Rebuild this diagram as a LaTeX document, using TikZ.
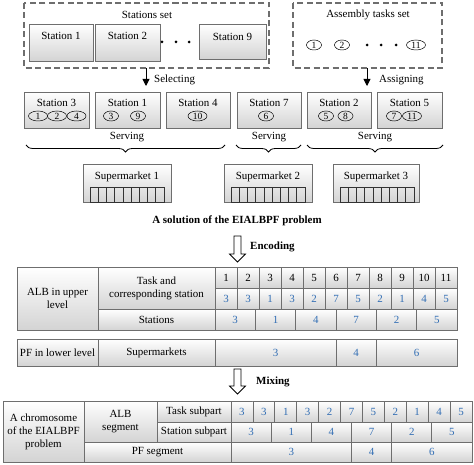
\documentclass[tikz,border=0pt]{standalone}
\usepackage{fontspec}
\setmainfont{Liberation Serif}
\usetikzlibrary{calc,shapes.geometric,decorations.pathreplacing,arrows.meta}
\definecolor{numblue}{RGB}{50,110,180}
\definecolor{edge}{RGB}{110,110,110}
\tikzset{
  boxshade/.style={top color=white,bottom color=black!17},
  boxline/.style={draw=edge,line width=0.8bp},
  dashbox/.style={draw=edge,line width=1.1bp,dash pattern=on 6bp off 3.5bp},
  tsk/.style={ellipse,draw=black,line width=0.5bp,minimum width=15bp,minimum height=10bp,inner sep=0pt,font=\fontsize{9.5}{10}\selectfont},
  wtsk/.style={tsk,minimum width=19bp},
  lbl/.style={inner sep=0pt,font=\fontsize{11}{13}\selectfont},
  blbl/.style={lbl,font=\fontsize{11}{13}\selectfont\bfseries},
  dotn/.style={circle,fill=black,inner sep=0pt,minimum size=3bp},
  brc/.style={decorate,decoration={brace,mirror,amplitude=7bp},line width=0.8bp},
  arr/.style={-{Triangle[length=7bp,width=7bp]},line width=0.9bp},
  hollow/.style={draw=black,line width=0.8bp,fill=white},
}
% cell: name, x1, y1, x2, y2, text
\newcommand\tcell[6]{%
  \shade[boxshade] (#2,#3) rectangle (#4,#5);
  \draw[boxline] (#2,#3) rectangle (#4,#5);
  \node[lbl,align=center] (#1) at ($(#2,#3)!.5!(#4,#5)$) {#6};}
\newcommand\bcell[6]{\tcell{#1}{#2}{#3}{#4}{#5}{\textcolor{numblue}{#6}}}
\newcommand\stbox[5]{% name, x1, y1, x2, y2
  \shade[boxshade] (#2,#3) rectangle (#4,#5);
  \draw[boxline] (#2,#3) rectangle (#4,#5);
  \coordinate (#1) at ($(#2,#3)!.5!(#4,#5)$);}
\begin{document}
\begin{tikzpicture}[x=1bp,y=-1bp]
\useasboundingbox (0,0) rectangle (474,465);
\fill[white] (0,0) rectangle (474,465);

% ---------- top dashed sets ----------
\draw[dashbox] (24,3) rectangle (269,68);
\node[lbl] (sset) at (147,15) {Stations set};
\stbox{s1b}{29}{24}{93}{61}
\node[lbl] (s1) at (61,36) {Station 1};
\stbox{s2b}{95}{24}{160}{61}
\node[lbl] (s2) at (127.5,36) {Station 2};
\stbox{s9b}{199}{24}{266}{59}
\node[lbl] (s9) at (232.5,37) {Station 9};
\node[dotn] (d1) at (162,42) {};
\node[dotn] (d2) at (176,42) {};
\node[dotn] (d3) at (189,42) {};

\draw[dashbox] (293,3) rectangle (442,68);
\node[lbl] (tset) at (368,15) {Assembly tasks set};
\node[tsk] (a1) at (314,45) {1};
\node[tsk] (a2) at (342,45) {2};
\node[dotn] (e1) at (367,45) {};
\node[dotn] (e2) at (381,45) {};
\node[dotn] (e3) at (396,45) {};
\node[wtsk] (a11) at (416,45) {11};

% arrows
\coordinate (selT) at (146,68);
\coordinate (selB) at (146,86);
\draw[arr] (selT) -- (selB);
\node[lbl,anchor=west] (sel) at (154,80) {Selecting};
\coordinate (asgT) at (367,68);
\coordinate (asgB) at (367,86);
\draw[arr] (asgT) -- (asgB);
\node[lbl,anchor=west] (asg) at (379,80) {Assigning};

% ---------- selected stations ----------
\stbox{r1}{24}{92}{89}{128}
\node[lbl] (r1t) at (56.5,103) {Station 3};
\node[tsk,minimum width=19bp] (c1) at (38,116) {1};
\node[tsk,minimum width=19bp] (c2) at (57,116) {2};
\node[tsk,minimum width=19bp] (c4) at (76.5,116) {4};

\stbox{r2}{95}{92}{160}{128}
\node[lbl] (r2t) at (127.5,103) {Station 1};
\node[tsk] (c3) at (111,116) {3};
\node[tsk] (c9) at (138,116) {9};

\stbox{r3}{166}{92}{230}{128}
\node[lbl] (r3t) at (198,103) {Station 4};
\node[wtsk] (c10) at (197.5,116) {10};

\stbox{r4}{237}{92}{301}{128}
\node[lbl] (r4t) at (269,103) {Station 7};
\node[tsk] (c6) at (266,116) {6};

\stbox{r5}{307}{92}{371}{128}
\node[lbl] (r5t) at (339,103) {Station 2};
\node[tsk] (c5) at (326,116) {5};
\node[tsk] (c8) at (345.5,116) {8};

\stbox{r6}{377}{92}{442}{128}
\node[lbl] (r6t) at (409.5,103) {Station 5};
\node[tsk] (c7) at (394,116) {7};
\node[wtsk] (c11) at (412,116) {11};

% braces
\coordinate (b1L) at (26,145);
\coordinate (b1R) at (225,145);
\draw[brc] (b1L) -- (b1R);
\node[lbl] (sv1) at (127,137) {Serving};
\coordinate (b2L) at (236,145);
\coordinate (b2R) at (301,145);
\draw[brc] (b2L) -- (b2R);
\node[lbl] (sv2) at (269,137) {Serving};
\coordinate (b3L) at (307,145);
\coordinate (b3R) at (443,145);
\draw[brc] (b3L) -- (b3R);
\node[lbl] (sv3) at (375,137) {Serving};

% supermarkets
\foreach \nm/\xa/\xb/\lab in {m1/83/171/Supermarket 1, m2/224/312/Supermarket 2, m3/333/419/Supermarket 3}{
  \stbox{\nm}{\xa}{164}{\xb}{202}
  \node[lbl] (\nm t) at ($(\xa,177)!.5!(\xb,177)$) {\lab};
  \pgfmathsetmacro\cx{\xa+7}
  \foreach \k in {0,...,8}{
    \draw[line width=0.6bp,draw=black!80] ({\cx+\k*8.2},187) rectangle ({\cx+(\k+1)*8.2},202);
  }
}

% ---------- solution title and encoding ----------
\node[blbl] (sol) at (237,221) {A solution of the EIALBPF problem};
\draw[hollow] (234,236) -- (241,236) -- (241,254) -- (245.5,254) -- (237.5,262) -- (229.5,254) -- (234,254) -- cycle;
\node[blbl,anchor=west] (enc) at (250,247) {Encoding};

% ---------- upper/lower table ----------
\tcell{alb}{17}{267}{98}{330}{ALB in upper\\level}
\tcell{tcs}{98}{267}{215}{309}{Task and\\corresponding station}
\tcell{sts}{98}{309}{215}{330}{Stations}
\foreach \i/\s in {1/3,2/3,3/1,4/3,5/2,6/7,7/5,8/2,9/1,10/4,11/5}{
  \pgfmathsetmacro\xa{215+(\i-1)*22}
  \pgfmathsetmacro\xb{215+\i*22}
  \tcell{tn\i}{\xa}{267}{\xb}{288}{\i}
  \bcell{ts\i}{\xa}{288}{\xb}{309}{\s}
}
\foreach \i/\s in {1/3,2/1,3/4,4/7,5/2,6/5}{
  \pgfmathsetmacro\xa{215+(\i-1)*242/6}
  \pgfmathsetmacro\xb{215+\i*242/6}
  \bcell{ss\i}{\xa}{309}{\xb}{330}{\s}
}
\tcell{pfl}{17}{339}{98}{366}{PF in lower level}
\tcell{spm}{98}{339}{215}{366}{Supermarkets}
\bcell{pf1}{215}{339}{336}{366}{3}
\bcell{pf2}{336}{339}{376.3}{366}{4}
\bcell{pf3}{376.3}{339}{457}{366}{6}

% mixing arrow
\draw[hollow] (234,369) -- (241,369) -- (241,386) -- (245.5,386) -- (237.5,394) -- (229.5,386) -- (234,386) -- cycle;
\node[blbl,anchor=west] (mix) at (256,382) {Mixing};

% ---------- chromosome table ----------
\tcell{chr}{3}{401}{84}{462}{A chromosome\\of the EIALBPF\\problem}
\tcell{albs}{84}{401}{157}{442}{ALB\\segment}
\tcell{tsp}{157}{401}{231}{422}{Task subpart}
\tcell{ssp}{157}{422}{231}{442}{Station subpart}
\tcell{pfs}{84}{442}{231}{462}{PF segment}
\foreach \i/\s in {1/3,2/3,3/1,4/3,5/2,6/7,7/5,8/2,9/1,10/4,11/5}{
  \pgfmathsetmacro\xa{231+(\i-1)*241/11}
  \pgfmathsetmacro\xb{231+\i*241/11}
  \bcell{ct\i}{\xa}{401}{\xb}{422}{\s}
}
\foreach \i/\s in {1/3,2/1,3/4,4/7,5/2,6/5}{
  \pgfmathsetmacro\xa{231+(\i-1)*241/6}
  \pgfmathsetmacro\xb{231+\i*241/6}
  \bcell{cs\i}{\xa}{422}{\xb}{442}{\s}
}
\bcell{cp1}{231}{442}{351.5}{462}{3}
\bcell{cp2}{351.5}{442}{391.7}{462}{4}
\bcell{cp3}{391.7}{442}{472}{462}{6}
\end{tikzpicture}
\end{document}
